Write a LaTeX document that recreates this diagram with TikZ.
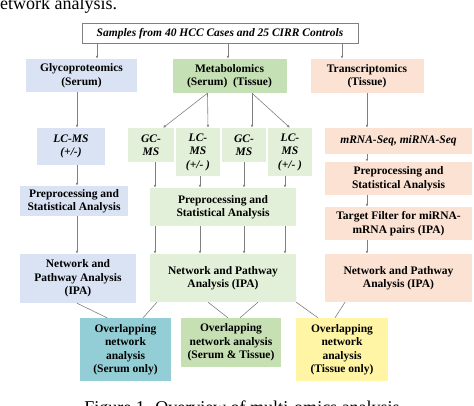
\documentclass[tikz,border=0pt]{standalone}
\usepackage{fontspec}
\setmainfont{Liberation Serif}
\usepackage{xcolor}
\usetikzlibrary{arrows.meta}
\definecolor{glyblue}{HTML}{DAE3F3}
\definecolor{metgreen}{HTML}{C5E0B4}
\definecolor{metlight}{HTML}{E2F0D9}
\definecolor{trpeach}{HTML}{FBE2D3}
\definecolor{ovteal}{HTML}{93CDD5}
\definecolor{ovgreen}{HTML}{C6E0B4}
\definecolor{ovyellow}{HTML}{FFF5A5}
\definecolor{linegray}{HTML}{808080}

\begin{document}
\begin{tikzpicture}[
        x=1pt, y=-1pt,
        omicbox/.style={
          rectangle,
          inner sep=1pt,
          align=center,
          font=\fontsize{11.5}{13.5}\selectfont\bfseries
        },
        itbox/.style={omicbox, font=\fontsize{11.5}{13.5}\selectfont\bfseries\itshape},
        arrow/.style={-{Latex[length=3pt,width=2.6pt]}, draw=linegray, line width=0.6pt},
        link/.style={draw=linegray, line width=0.6pt}
      ]
        \useasboundingbox (0,0) rectangle (474,405);

        % clipped page text
        \node[anchor=base west, inner sep=0pt, font=\fontsize{18}{20}\selectfont] (pagetext) at (0,9) {etwork analysis.};
        \node[anchor=base, inner sep=0pt, font=\fontsize{18}{20}\selectfont] (caption) at (242,413) {Figure 1. Overview of multi-omics analysis};

        \node[itbox, draw=linegray, line width=0.8pt, fill=white, minimum width=276pt, minimum height=20pt] (samples) at (220,33.5) {Samples from 40 HCC Cases and 25 CIRR Controls};

        % headers
        \node[omicbox, fill=glyblue, minimum width=111pt, minimum height=33pt] (glyco) at (81.5,75.5) {Glycoproteomics\\(Serum)};
        \node[omicbox, fill=metgreen, minimum width=114pt, minimum height=34pt] (metab) at (229.5,76) {Metabolomics\\(Serum)~~(Tissue)};
        \node[omicbox, fill=trpeach, minimum width=113pt, minimum height=34pt] (transcr) at (367,76) {Transcriptomics\\(Tissue)};

        % platforms
        \node[itbox, fill=glyblue, minimum width=68pt, minimum height=37pt] (lcms) at (71,146.5) {LC-MS\\(+/-)};
        \node[itbox, fill=metlight, minimum width=46pt, minimum height=34pt] (gc1) at (151,145) {GC-\\MS};
        \node[itbox, fill=metlight, minimum width=44pt, minimum height=48pt] (lc2) at (198,152) {LC-\\MS\\(+/- )};
        \node[itbox, fill=metlight, minimum width=44pt, minimum height=34pt] (gc2) at (244,145) {GC-\\MS};
        \node[itbox, fill=metlight, minimum width=44pt, minimum height=48pt] (lc3) at (290,152) {LC-\\MS\\(+/- )};
        \node[itbox, fill=trpeach, minimum width=147pt, minimum height=26pt] (mrna) at (398.5,141) {mRNA-Seq, miRNA-Seq};

        % preprocessing
        \node[omicbox, fill=glyblue, minimum width=108pt, minimum height=30pt] (prepg) at (74,201) {Preprocessing and\\Statistical Analysis};
        \node[omicbox, fill=metlight, minimum width=146pt, minimum height=38pt] (prepm) at (223,207) {Preprocessing and\\Statistical Analysis};
        \node[omicbox, fill=trpeach, minimum width=147pt, minimum height=33pt] (prept) at (398.5,178.5) {Preprocessing and\\Statistical Analysis};
        \node[omicbox, fill=trpeach, minimum width=147pt, minimum height=33pt] (target) at (398.5,223.5) {Target Filter for miRNA-\\mRNA pairs (IPA)};

        % networks
        \node[omicbox, fill=glyblue, minimum width=116pt, minimum height=49pt] (netg) at (78,278.5) {Network and\\Pathway Analysis\\(IPA)};
        \node[omicbox, fill=metlight, minimum width=146pt, minimum height=48pt] (netm) at (223,278) {Network and Pathway\\Analysis (IPA)};
        \node[omicbox, fill=trpeach, minimum width=147pt, minimum height=48pt] (nett) at (398.5,278) {Network and Pathway\\Analysis (IPA)};

        % overlaps
        \node[omicbox, fill=ovteal, minimum width=91pt, minimum height=63pt] (ovs) at (125.5,349.5) {Overlapping\\network\\analysis\\(Serum only)};
        \node[omicbox, fill=ovgreen, minimum width=100pt, minimum height=49pt] (ovst) at (231,342.5) {Overlapping\\network analysis\\(Serum \& Tissue)};
        \node[omicbox, fill=ovyellow, minimum width=92pt, minimum height=63pt] (ovt) at (342,349.5) {Overlapping\\network\\analysis\\(Tissue only)};

        % arrows from samples
        \draw[arrow] ([xshift=-123pt]samples.south) -- ([xshift=-123pt]samples.south |- glyco.north);
        \draw[arrow] ([xshift=8pt]samples.south) -- ([xshift=8pt]samples.south |- metab.north);
        \draw[arrow] ([xshift=122pt]samples.south) -- ([xshift=122pt]samples.south |- transcr.north);

        % glycoproteomics column
        \draw[arrow] ([xshift=-4.5pt]glyco.south) -- ([xshift=-4.5pt]glyco.south |- lcms.north);
        \draw[arrow] ([xshift=6pt]lcms.south) -- ([xshift=6pt]lcms.south |- prepg.north);
        \draw[arrow] ([xshift=3pt]prepg.south) -- ([xshift=3pt]prepg.south |- netg.north);

        % metabolomics column
        \draw[arrow] ([xshift=-22pt]metab.south) -- ([xshift=12pt]gc1.north);
        \draw[arrow] ([xshift=-22pt]metab.south) -- ([xshift=10pt]lc2.north);
        \draw[arrow] ([xshift=22.5pt]metab.south) -- ([xshift=8pt]gc2.north);
        \draw[arrow] ([xshift=22.5pt]metab.south) -- (lc3.north);
        \foreach \b/\s in {gc1/4pt, lc2/2pt, gc2/0pt, lc3/-5pt} {
          \draw[arrow] ([xshift=\s]\b.south) -- ([xshift=\s]\b.south |- prepm.north);
          \draw[arrow] ([xshift=\s]\b.south |- prepm.south) -- ([xshift=\s]\b.south |- netm.north);
        }

        % transcriptomics column
        \draw[arrow] (transcr.south) -- (transcr.south |- mrna.north);
        \draw[arrow] (transcr.south |- mrna.south) -- (transcr.south |- prept.north);
        \draw[arrow] (transcr.south |- prept.south) -- (transcr.south |- target.north);
        \draw[arrow] (transcr.south |- target.south) -- (transcr.south |- nett.north);

        % links to overlaps
        \draw[link] ([xshift=-1pt]netg.south) -- ([xshift=-18.5pt]ovs.north);
        \draw[link] ([xshift=-66pt]netm.south) -- ([xshift=17.5pt]ovs.north);
        \draw[link] ([xshift=-15pt]netm.south) -- ([xshift=-3pt]ovst.north);
        \draw[link] ([xshift=35pt]netm.south) -- ([xshift=9pt]ovst.north);
        \draw[link] (netm.south east) -- ([xshift=-24pt]ovt.north);
        \draw[link] ([xshift=-53.5pt]nett.south) -- ([xshift=-7pt]ovt.north);
      \end{tikzpicture}
\end{document}
